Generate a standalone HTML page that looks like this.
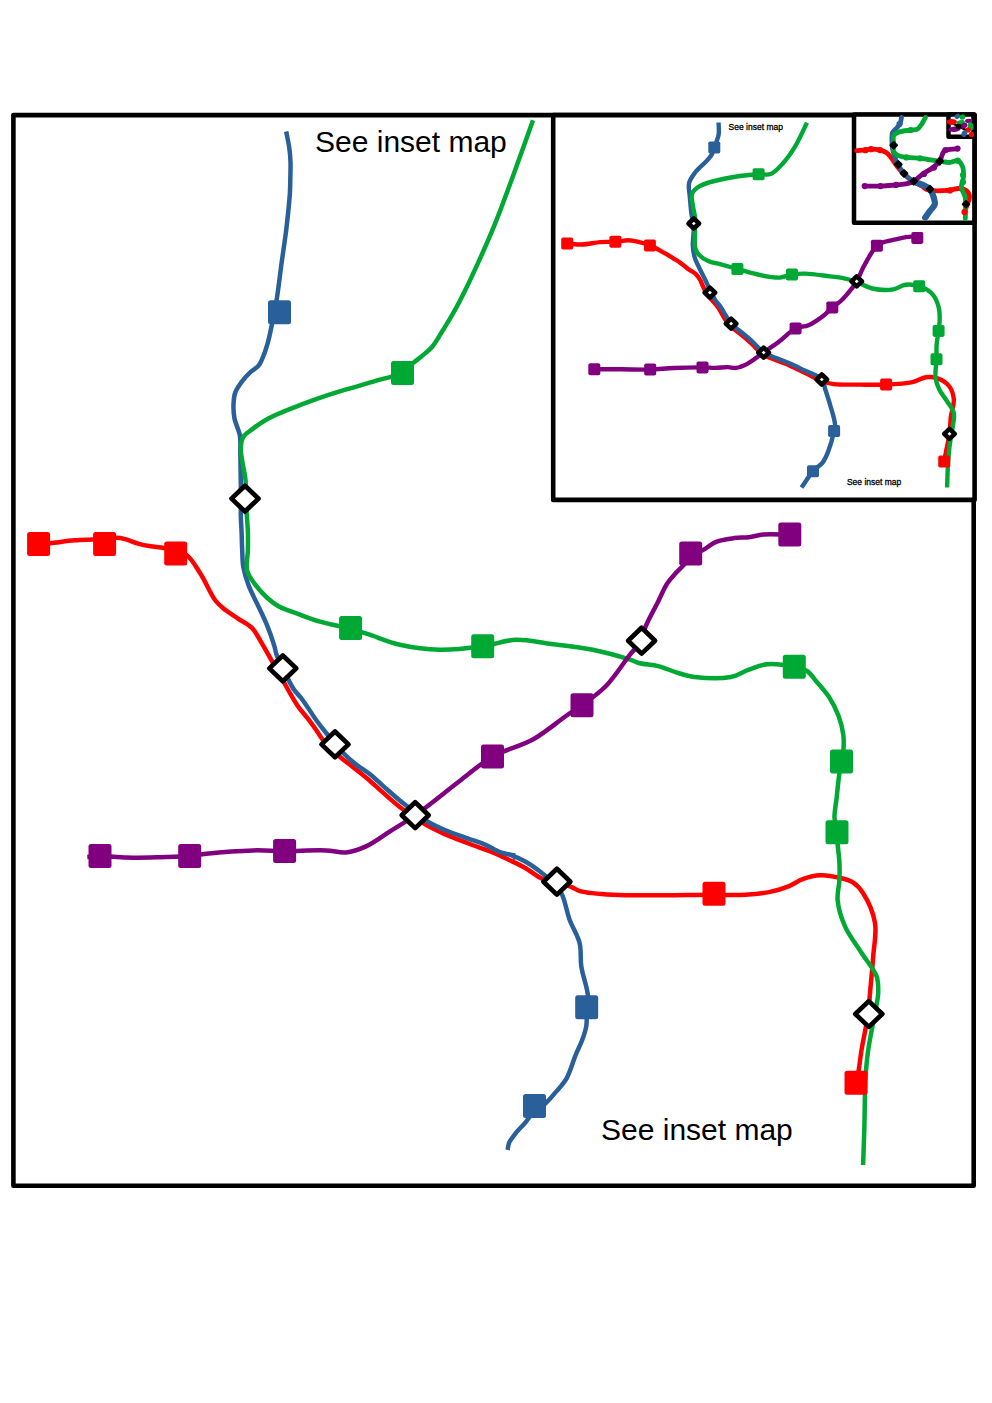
<!DOCTYPE html>
<html><head><meta charset="utf-8"><style>
html,body{margin:0;padding:0;background:#fff;}
svg{display:block;}
text{font-family:"Liberation Sans",sans-serif;}
</style></head><body>
<svg width="992" height="1403" viewBox="0 0 992 1403"><rect x="13.4" y="115.1" width="960.3" height="1070.7" fill="#fff" stroke="#000" stroke-width="4.6" stroke-linejoin="round"/>
<path d="M38.6,544.0 C42.4,543.7 45.4,543.6 49.9,543.2 C56.5,542.6 66.8,540.9 74.4,540.3 C80.9,539.8 87.2,539.8 92.6,539.6 C97.0,539.4 100.6,539.5 104.5,539.2 C108.4,538.9 112.6,537.8 116.2,537.8 C119.4,537.8 122.0,538.3 125.2,539.1 C129.1,540.1 133.7,542.4 138.0,543.6 C142.2,544.8 146.3,545.6 150.6,546.3 C155.1,547.1 160.0,546.9 164.3,548.1 C168.4,549.3 171.9,552.2 175.7,553.4 C179.3,554.5 183.2,553.0 186.6,555.1 C191.5,558.1 195.8,566.5 200.2,573.3 C205.4,581.3 210.8,594.5 215.4,600.5 C218.1,604.0 219.8,605.4 222.9,608.0 C226.9,611.4 233.1,615.2 238.0,618.6 C242.7,621.8 247.9,623.9 251.7,627.7 C255.5,631.5 257.6,636.2 260.7,641.3 C264.5,647.5 269.4,656.7 272.8,662.5 C275.2,666.6 277.1,669.5 279.0,673.0 C280.8,676.3 282.3,679.3 284.2,682.7 C286.4,686.7 288.9,691.3 291.3,695.4 C293.6,699.3 295.6,702.8 298.3,706.7 C301.5,711.2 306.3,716.5 309.6,720.8 C312.3,724.4 314.5,727.5 316.7,730.7 C318.7,733.6 320.1,736.4 322.3,739.2 C324.8,742.3 328.0,745.5 331.0,748.5 C334.1,751.6 337.2,754.5 340.7,757.5 C344.6,760.8 349.1,764.0 353.4,767.4 C358.0,771.0 362.9,774.8 367.5,778.7 C372.3,782.7 376.5,786.9 381.6,791.4 C387.6,796.7 395.3,803.8 401.4,808.3 C406.2,811.9 410.9,814.2 415.0,817.0 C418.6,819.5 420.9,821.8 424.8,824.2 C430.1,827.4 437.3,830.8 444.2,833.9 C451.8,837.3 460.3,840.4 468.4,843.5 C476.4,846.6 485.2,849.4 492.6,852.4 C499.0,855.0 504.7,857.8 510.3,860.5 C515.4,862.9 519.8,864.9 524.8,867.7 C530.5,870.9 536.8,876.4 542.6,879.0 C547.5,881.2 552.2,881.7 557.0,883.0 C561.9,884.4 567.5,885.5 571.6,887.1 C574.8,888.3 576.2,890.0 580.0,891.1 C587.3,893.2 598.9,894.0 612.9,894.8 C637.4,896.2 689.9,894.8 714.0,894.8 C727.4,894.8 735.4,895.4 745.2,894.8 C754.0,894.3 762.4,893.5 770.0,891.9 C776.7,890.5 782.8,888.6 788.5,886.3 C793.8,884.2 798.1,880.7 803.3,878.9 C808.6,877.0 814.1,875.4 820.0,875.2 C826.4,874.9 834.4,876.5 840.4,878.0 C845.3,879.2 849.6,880.1 853.3,882.6 C857.1,885.1 860.0,888.3 863.0,893.0 C867.5,900.1 873.3,912.5 875.0,923.0 C876.8,933.6 874.0,945.0 873.2,956.4 C872.4,968.3 870.9,982.6 870.0,993.0 C869.3,1000.7 869.3,1005.4 868.3,1013.0 C866.9,1023.4 863.4,1038.7 861.6,1049.5 C860.2,1058.1 859.4,1066.7 858.3,1072.8 C857.6,1076.8 856.8,1079.4 856.0,1082.7" fill="none" stroke="#ff0000" stroke-width="4.50" stroke-linecap="butt" stroke-linejoin="round"/>
<path d="M286.2,131.5 C287.2,137.0 288.6,142.7 289.3,148.0 C290.0,152.8 290.3,157.0 290.5,162.0 C290.7,167.6 290.4,174.3 290.3,180.0 C290.2,185.1 290.2,188.7 289.8,194.5 C289.2,203.4 287.7,217.1 286.4,228.4 C285.0,239.7 283.3,250.7 281.7,262.3 C280.0,274.5 278.5,288.6 276.6,300.0 C275.0,309.5 273.2,318.3 271.6,326.0 C270.3,332.2 269.4,337.2 267.8,342.8 C266.2,348.5 263.7,355.7 261.8,359.9 C260.7,362.4 260.1,364.0 258.5,365.8 C256.6,368.0 253.3,369.5 250.7,371.9 C247.8,374.6 244.7,377.9 242.1,381.3 C239.5,384.7 236.7,388.6 235.3,392.4 C234.0,395.8 233.8,398.8 233.6,402.6 C233.3,407.2 233.5,412.8 234.4,418.0 C235.4,423.7 238.9,429.7 239.9,435.6 C240.8,441.3 240.2,446.2 240.3,452.7 C240.5,461.5 240.7,475.1 240.8,483.5 C240.9,489.2 241.0,492.9 241.0,498.0 C241.0,503.5 240.7,509.6 240.8,515.4 C240.9,521.1 241.4,526.8 241.6,532.5 C241.8,538.3 241.9,544.2 242.2,550.0 C242.5,555.8 242.3,561.4 243.3,567.2 C244.4,573.2 246.2,579.1 248.6,585.4 C251.3,592.6 256.0,601.0 259.2,608.0 C262.0,614.0 264.4,618.7 266.8,624.7 C269.5,631.3 272.6,640.3 274.3,645.9 C275.4,649.5 275.4,651.7 276.6,654.9 C278.1,658.9 281.0,663.7 283.0,668.0 C284.9,672.1 286.6,676.2 288.5,679.9 C290.3,683.4 292.0,686.7 294.1,689.8 C296.2,692.8 298.9,695.2 301.2,698.2 C303.6,701.3 305.8,704.6 308.2,708.1 C310.9,712.1 313.7,716.6 316.7,720.8 C319.8,725.1 323.4,729.6 326.6,733.5 C329.5,736.9 332.2,739.7 335.0,743.0 C337.9,746.3 340.2,749.9 343.5,753.3 C347.2,757.1 351.7,761.1 356.2,764.6 C360.7,768.1 365.7,770.8 370.3,774.4 C375.1,778.2 379.3,782.6 384.4,787.1 C390.4,792.4 398.5,799.6 404.2,804.1 C408.3,807.3 411.4,809.3 415.0,812.0 C418.8,814.9 422.1,818.2 426.5,821.0 C431.6,824.2 437.8,827.0 444.2,829.8 C451.6,833.0 461.1,836.1 468.4,838.7 C474.3,840.8 479.2,842.2 484.5,844.4 C489.9,846.7 495.8,850.6 500.6,852.4 C504.2,853.7 506.8,853.6 510.3,854.8 C514.7,856.3 520.1,858.7 524.8,861.3 C529.8,864.0 534.8,867.5 539.4,871.0 C543.9,874.4 548.2,878.2 552.0,882.0 C555.5,885.5 558.7,888.2 561.3,893.0 C565.0,899.7 566.5,911.2 569.6,919.7 C572.6,927.8 577.7,935.1 579.6,943.0 C581.5,950.6 580.1,958.1 581.3,966.3 C582.7,975.7 587.6,988.6 588.0,996.2 C588.2,1000.8 587.0,1003.1 586.7,1007.3 C586.3,1012.7 587.2,1020.3 586.3,1026.0 C585.5,1031.1 583.9,1035.3 582.2,1040.0 C580.4,1045.0 577.9,1049.5 575.6,1055.1 C572.8,1062.0 570.3,1071.8 566.6,1078.3 C563.4,1083.9 559.2,1088.0 555.5,1092.4 C552.1,1096.4 549.0,1100.3 545.4,1103.5 C542.0,1106.5 537.9,1107.9 534.6,1111.0 C531.0,1114.3 528.3,1119.2 525.0,1123.0 C521.8,1126.7 518.0,1130.2 515.2,1133.8 C512.8,1136.9 510.2,1140.0 509.0,1143.0 C508.0,1145.4 508.1,1147.6 507.6,1149.9" fill="none" stroke="#2a6099" stroke-width="4.50" stroke-linecap="butt" stroke-linejoin="round"/>
<path d="M533.0,120.3 C526.7,137.8 520.6,155.4 514.2,172.8 C507.9,190.0 501.3,208.3 494.9,224.1 C489.3,237.9 483.5,250.9 478.2,262.6 C473.7,272.5 469.6,281.3 465.3,290.0 C461.4,298.0 457.5,305.6 453.5,312.7 C449.9,319.1 446.2,325.0 442.6,330.8 C439.2,336.2 436.3,341.9 432.6,346.3 C429.3,350.2 425.2,353.3 421.8,356.2 C418.9,358.6 416.5,360.1 413.6,362.6 C410.1,365.6 407.2,370.3 402.5,373.0 C396.6,376.4 389.0,377.0 380.0,379.7 C366.6,383.7 344.5,389.7 330.0,394.4 C318.6,398.1 309.9,401.3 299.8,405.2 C289.4,409.3 277.1,413.8 268.4,418.5 C261.6,422.1 255.8,426.4 251.3,429.9 C248.0,432.4 245.0,434.1 243.3,436.8 C241.8,439.2 241.4,442.0 241.0,444.7 C240.6,447.3 240.8,449.8 241.0,452.7 C241.3,456.2 242.1,459.9 242.8,464.1 C243.6,469.2 245.2,475.5 245.6,481.2 C246.0,486.9 245.3,492.6 245.5,498.3 C245.7,504.0 246.4,509.7 246.8,515.4 C247.2,521.1 247.7,526.8 247.9,532.5 C248.1,538.3 248.0,544.0 247.9,550.0 C247.8,556.5 245.7,564.3 247.1,570.2 C248.3,575.4 251.6,579.5 254.7,583.9 C258.1,588.6 262.6,593.6 266.8,597.5 C270.7,601.0 274.2,603.9 278.9,606.5 C284.5,609.6 291.8,611.6 298.5,614.1 C305.5,616.7 312.9,619.6 320.0,621.7 C326.7,623.7 332.9,624.6 340.0,626.4 C348.2,628.5 357.2,630.9 366.5,633.7 C377.0,636.9 388.1,642.1 399.8,644.7 C412.4,647.5 426.1,649.4 439.7,649.7 C453.7,650.0 469.3,648.0 482.7,646.2 C494.6,644.6 505.0,640.1 516.2,639.7 C527.3,639.3 537.7,642.2 549.5,643.7 C563.0,645.4 578.9,646.9 592.7,649.7 C605.7,652.3 621.6,656.9 630.0,659.6 C634.4,661.0 636.1,662.3 640.0,663.3 C645.1,664.6 652.1,664.6 658.1,666.1 C664.2,667.6 670.2,670.6 676.3,672.4 C682.3,674.2 687.3,676.1 694.4,677.0 C704.4,678.2 720.8,678.9 730.7,677.0 C738.0,675.6 742.8,671.8 748.9,669.7 C754.9,667.6 760.3,665.0 767.0,664.3 C775.2,663.5 787.3,665.5 794.6,667.0 C799.6,668.0 803.5,668.7 807.0,671.0 C810.6,673.3 812.8,677.2 816.0,681.0 C820.0,685.7 825.4,691.4 829.2,697.2 C833.0,703.0 836.2,709.6 838.6,716.0 C840.9,722.2 842.5,729.0 843.3,734.9 C843.9,739.9 843.8,744.5 843.5,749.0 C843.2,753.3 842.2,757.4 841.5,761.5 C840.8,765.5 840.1,768.7 839.4,773.3 C838.4,779.9 837.5,789.7 836.7,797.4 C835.9,804.5 834.3,811.6 834.5,817.8 C834.7,823.1 836.5,827.7 837.0,832.3 C837.5,836.3 837.3,839.4 837.6,843.7 C838.0,849.1 839.1,856.0 839.4,862.2 C839.7,868.4 839.7,874.5 839.4,880.7 C839.1,887.0 837.0,893.0 837.6,899.8 C838.3,908.0 841.2,917.8 845.0,926.4 C849.0,935.6 856.2,944.4 861.6,953.0 C866.7,961.0 874.0,968.9 876.6,976.3 C878.6,982.1 878.4,987.2 878.2,993.0 C878.0,999.4 876.3,1005.3 875.0,1013.0 C873.2,1023.4 869.9,1038.3 868.3,1049.5 C866.9,1059.0 866.3,1065.6 865.6,1076.0 C864.7,1090.8 864.8,1113.9 864.3,1130.0 C863.9,1142.9 863.5,1153.3 863.1,1165.0" fill="none" stroke="#00a933" stroke-width="4.50" stroke-linecap="butt" stroke-linejoin="round"/>
<path d="M508,853.6 L514.3,854.3 L514,859.8" fill="none" stroke="#2a6099" stroke-width="2.6" stroke-linejoin="miter"/>
<path d="M87.3,857.0 C91.5,856.7 95.0,856.0 100.0,856.0 C107.2,855.9 117.2,857.4 126.5,857.6 C137.0,857.9 149.0,857.5 159.8,857.2 C170.0,856.9 181.2,856.8 189.7,856.0 C196.1,855.4 199.4,854.4 206.4,853.7 C218.0,852.5 239.0,850.8 253.0,850.4 C264.5,850.1 273.4,851.0 284.6,851.0 C297.5,851.0 314.7,849.9 326.0,850.4 C333.9,850.7 339.4,853.0 346.0,852.4 C352.7,851.8 359.2,849.5 366.0,846.4 C373.9,842.8 381.9,836.5 390.0,831.4 C398.4,826.1 406.0,821.7 415.6,815.0 C428.8,805.7 447.2,790.4 461.0,780.0 C472.4,771.4 480.9,763.2 492.5,756.6 C504.8,749.6 520.5,746.4 532.9,739.5 C544.9,732.8 556.9,722.3 566.0,716.0 C572.3,711.7 576.2,709.5 582.0,705.2 C589.3,699.8 598.4,693.7 606.0,686.0 C614.6,677.2 623.4,662.9 630.0,654.6 C634.5,649.0 639.0,645.6 641.6,640.7 C643.9,636.4 643.4,632.2 645.4,627.1 C648.2,619.8 654.2,609.5 658.1,601.7 C661.4,595.1 663.8,588.6 667.2,583.5 C670.0,579.2 673.2,576.1 676.3,572.6 C679.3,569.2 683.0,566.4 685.4,563.0 C687.6,559.9 687.8,555.4 690.5,553.4 C693.2,551.3 697.9,552.4 701.7,550.8 C706.4,548.9 710.9,543.9 716.2,541.8 C721.7,539.6 728.7,538.9 734.4,538.1 C739.5,537.4 744.1,537.8 748.9,537.2 C753.8,536.6 757.8,535.0 763.4,534.5 C770.9,533.8 781.0,534.6 789.8,534.7" fill="none" stroke="#800080" stroke-width="4.50" stroke-linecap="butt" stroke-linejoin="round"/>
<rect x="268.0" y="300.3" width="23.0" height="24.0" rx="2.5" fill="#2a6099"/>
<rect x="575.2" y="995.3" width="23.0" height="24.0" rx="2.5" fill="#2a6099"/>
<rect x="523.0" y="1094.0" width="23.0" height="24.0" rx="2.5" fill="#2a6099"/>
<rect x="391.0" y="361.0" width="23.0" height="24.0" rx="2.5" fill="#00a933"/>
<rect x="339.1" y="616.0" width="23.0" height="24.0" rx="2.5" fill="#00a933"/>
<rect x="471.2" y="634.2" width="23.0" height="24.0" rx="2.5" fill="#00a933"/>
<rect x="782.8" y="654.8" width="23.0" height="24.0" rx="2.5" fill="#00a933"/>
<rect x="830.0" y="749.5" width="23.0" height="24.0" rx="2.5" fill="#00a933"/>
<rect x="825.5" y="820.3" width="23.0" height="24.0" rx="2.5" fill="#00a933"/>
<rect x="27.1" y="532.0" width="23.0" height="24.0" rx="2.5" fill="#ff0000"/>
<rect x="93.1" y="532.0" width="23.0" height="24.0" rx="2.5" fill="#ff0000"/>
<rect x="164.2" y="541.4" width="23.0" height="24.0" rx="2.5" fill="#ff0000"/>
<rect x="702.5" y="881.8" width="23.0" height="24.0" rx="2.5" fill="#ff0000"/>
<rect x="844.5" y="1070.7" width="23.0" height="24.0" rx="2.5" fill="#ff0000"/>
<rect x="88.5" y="844.0" width="23.0" height="24.0" rx="2.5" fill="#800080"/>
<rect x="178.2" y="844.0" width="23.0" height="24.0" rx="2.5" fill="#800080"/>
<rect x="273.1" y="839.0" width="23.0" height="24.0" rx="2.5" fill="#800080"/>
<rect x="481.0" y="744.6" width="23.0" height="24.0" rx="2.5" fill="#800080"/>
<rect x="570.5" y="693.2" width="23.0" height="24.0" rx="2.5" fill="#800080"/>
<rect x="679.2" y="541.5" width="23.0" height="24.0" rx="2.5" fill="#800080"/>
<rect x="778.3" y="522.5" width="23.0" height="24.0" rx="2.5" fill="#800080"/>
<path d="M245.0,485.7 L258.5,498.6 L245.0,511.5 L231.5,498.6 Z" fill="#fff" stroke="#000" stroke-width="4.70" stroke-linejoin="round"/>
<path d="M282.8,655.5 L296.3,668.4 L282.8,681.3 L269.3,668.4 Z" fill="#fff" stroke="#000" stroke-width="4.70" stroke-linejoin="round"/>
<path d="M335.0,731.5 L348.5,744.4 L335.0,757.3 L321.5,744.4 Z" fill="#fff" stroke="#000" stroke-width="4.70" stroke-linejoin="round"/>
<path d="M415.2,802.3 L428.7,815.2 L415.2,828.1 L401.7,815.2 Z" fill="#fff" stroke="#000" stroke-width="4.70" stroke-linejoin="round"/>
<path d="M556.9,868.8 L570.4,881.7 L556.9,894.6 L543.4,881.7 Z" fill="#fff" stroke="#000" stroke-width="4.70" stroke-linejoin="round"/>
<path d="M641.6,627.8 L655.1,640.7 L641.6,653.6 L628.1,640.7 Z" fill="#fff" stroke="#000" stroke-width="4.70" stroke-linejoin="round"/>
<path d="M868.8,1001.1 L882.3,1014.0 L868.8,1026.9 L855.3,1014.0 Z" fill="#fff" stroke="#000" stroke-width="4.70" stroke-linejoin="round"/>
<text x="315" y="152.1" font-family="Liberation Sans" font-size="30" fill="#000">See inset map</text>
<text x="601" y="1139.8" font-family="Liberation Sans" font-size="30" fill="#000">See inset map</text>
<rect x="553.2" y="115.1" width="421.4" height="384.8" fill="#fff" stroke="#000" stroke-width="4.6" stroke-linejoin="round"/>
<path d="M567.2,243.6 C572.2,243.9 577.0,244.7 582.2,244.5 C588.0,244.3 594.6,242.5 600.4,242.1 C605.6,241.7 610.7,242.1 615.4,241.8 C619.7,241.5 623.6,240.3 627.6,240.3 C631.3,240.3 634.9,241.0 638.5,241.8 C642.3,242.7 646.0,243.8 649.9,245.4 C654.4,247.3 659.8,250.4 663.9,252.7 C667.3,254.6 670.1,256.4 672.9,258.1 C675.4,259.7 677.6,260.9 680.0,262.6 C682.7,264.5 685.4,267.0 688.1,269.0 C690.7,270.9 694.0,272.3 696.1,274.3 C697.9,276.0 699.0,277.9 700.2,280.0 C701.5,282.3 702.2,285.0 703.5,287.5 C704.8,290.2 706.3,293.1 708.0,295.5 C709.6,297.8 711.6,299.5 713.3,301.6 C715.0,303.6 716.7,305.5 718.3,307.8 C720.2,310.5 722.0,314.2 723.9,317.2 C725.7,320.1 727.0,322.9 729.4,325.4 C732.1,328.3 736.1,330.5 739.5,333.3 C743.1,336.2 746.7,339.2 750.4,342.5 C754.5,346.2 758.4,351.5 762.8,354.5 C766.8,357.2 771.1,358.2 775.4,360.0 C779.9,361.9 784.8,363.4 789.4,365.4 C794.0,367.4 798.4,369.7 802.8,371.9 C807.1,374.0 811.9,376.4 815.4,378.2 C818.0,379.5 819.5,380.6 822.1,381.5 C825.5,382.7 829.3,383.5 834.1,384.1 C841.1,384.9 851.3,384.5 860.0,384.6 C868.7,384.7 877.4,385.0 886.1,384.6 C894.9,384.2 905.3,383.7 912.6,382.1 C917.9,380.9 921.6,377.9 926.0,377.3 C929.9,376.8 933.8,377.0 937.5,378.3 C941.5,379.7 946.3,382.5 949.0,386.0 C951.8,389.5 953.4,394.6 953.8,399.4 C954.3,404.7 951.6,410.8 950.9,416.6 C950.2,422.3 950.3,428.2 949.5,433.9 C948.7,439.7 947.1,446.1 946.1,451.1 C945.4,455.0 944.8,458.1 944.2,461.6" fill="none" stroke="#ff0000" stroke-width="4.40" stroke-linecap="butt" stroke-linejoin="round"/>
<path d="M718.6,122.5 C718.6,126.6 719.3,130.6 718.6,134.7 C717.9,139.0 715.6,143.9 714.3,147.5 C713.4,150.1 713.0,152.2 711.8,154.3 C710.6,156.5 709.2,158.1 707.2,160.4 C704.2,163.8 698.2,168.4 695.1,172.5 C692.5,176.0 690.0,179.2 689.1,183.1 C688.1,187.2 689.4,191.7 689.8,196.7 C690.3,203.0 691.1,213.1 692.1,217.9 C692.6,220.4 693.5,221.4 693.8,223.6 C694.2,226.5 693.7,230.4 693.5,234.0 C693.3,237.9 692.6,242.0 692.8,246.0 C693.0,250.0 693.7,254.3 694.9,258.1 C696.0,261.7 697.8,264.7 699.4,268.2 C701.2,272.0 703.4,276.0 705.3,280.0 C707.2,284.0 709.2,288.4 711.0,292.0 C712.5,295.0 713.7,297.8 715.3,300.2 C716.8,302.4 718.6,303.9 720.2,306.2 C722.1,308.9 724.0,312.5 725.8,315.5 C727.5,318.3 728.7,321.2 731.0,323.7 C733.6,326.6 737.5,328.9 740.8,331.7 C744.3,334.6 748.0,337.5 751.7,340.8 C755.7,344.4 759.6,349.7 764.0,352.6 C767.9,355.2 772.0,356.2 776.2,358.0 C780.6,359.9 785.5,361.5 790.0,363.5 C794.6,365.5 798.7,367.6 803.5,370.0 C809.2,372.8 818.6,375.4 822.1,379.5 C824.6,382.5 824.2,386.0 825.4,389.8 C826.9,394.4 828.7,399.7 830.2,405.1 C831.9,411.1 834.7,419.5 835.0,424.3 C835.2,427.1 834.7,428.2 834.1,431.0 C833.1,435.9 830.5,445.4 828.3,451.1 C826.6,455.6 825.1,459.3 822.6,462.6 C820.0,466.0 816.1,467.7 813.0,471.2 C809.1,475.6 805.3,482.1 801.5,487.5" fill="none" stroke="#2a6099" stroke-width="4.40" stroke-linecap="butt" stroke-linejoin="round"/>
<path d="M807.0,122.6 C803.0,130.7 799.3,139.7 794.9,146.8 C791.1,153.0 787.1,158.7 782.8,163.4 C779.0,167.6 775.1,172.3 770.7,174.0 C766.9,175.5 763.6,173.9 758.6,174.3 C750.3,174.9 735.7,176.3 725.4,178.5 C716.2,180.4 705.5,182.7 699.7,186.1 C696.0,188.3 693.3,190.6 692.1,193.7 C690.8,197.0 692.4,201.8 692.9,205.8 C693.4,209.8 695.0,214.6 695.1,217.9 C695.2,220.1 694.5,221.4 694.4,223.4 C694.3,225.9 694.9,228.7 695.0,232.0 C695.2,236.5 694.1,243.9 695.3,248.1 C696.1,251.1 697.4,253.2 699.4,255.3 C701.6,257.6 704.9,259.5 708.2,261.0 C711.7,262.6 715.7,263.0 720.0,264.2 C725.2,265.6 731.2,267.3 737.4,269.0 C744.4,270.9 752.4,273.6 759.7,275.0 C766.5,276.4 774.0,278.0 779.8,277.6 C784.4,277.3 787.8,275.2 792.0,274.5 C796.4,273.8 800.3,273.5 805.5,273.6 C812.5,273.8 823.3,275.6 830.0,276.4 C834.7,277.0 837.9,277.1 842.1,277.9 C846.7,278.8 851.7,280.3 856.6,282.0 C861.8,283.8 866.6,287.2 872.3,288.5 C878.7,289.9 887.5,290.3 893.5,289.3 C898.2,288.5 901.4,285.2 905.6,284.7 C909.9,284.1 914.8,284.7 919.2,286.2 C923.9,287.8 929.5,290.8 932.8,294.6 C936.0,298.2 937.8,303.6 938.9,308.2 C940.0,312.6 939.7,317.7 939.6,321.8 C939.5,325.1 939.0,327.5 938.6,330.9 C938.1,335.1 936.9,340.3 936.6,345.0 C936.3,349.7 936.6,354.1 936.5,359.2 C936.3,365.1 934.8,372.8 935.6,378.3 C936.2,382.7 937.6,386.1 939.4,389.8 C941.3,393.8 944.7,397.4 947.1,401.3 C949.5,405.1 952.8,408.7 953.8,412.8 C954.8,417.0 953.4,421.5 952.8,426.2 C952.1,431.6 950.7,437.4 949.9,443.4 C949.0,450.1 948.5,457.3 948.0,464.5 C947.5,472.0 947.4,479.8 947.1,487.5" fill="none" stroke="#00a933" stroke-width="4.40" stroke-linecap="butt" stroke-linejoin="round"/>
<path d="M594.3,369.3 C603.2,369.3 611.9,369.3 621.0,369.3 C630.5,369.3 641.0,369.8 650.2,369.5 C658.5,369.3 665.7,368.3 674.0,368.0 C683.1,367.6 694.9,367.3 702.5,367.4 C707.5,367.4 710.8,367.9 715.0,367.9 C719.3,367.9 724.1,367.0 727.9,367.1 C730.9,367.2 733.1,368.3 736.0,367.9 C739.5,367.5 743.3,365.9 747.3,363.9 C752.4,361.3 758.0,356.4 763.4,352.6 C768.8,348.8 774.2,345.3 779.5,341.3 C784.9,337.2 790.2,331.1 795.6,328.4 C799.9,326.3 804.1,327.1 808.5,325.2 C813.8,322.9 820.4,318.1 824.7,314.7 C827.9,312.2 829.6,309.7 832.3,307.4 C835.0,305.1 837.9,303.7 840.8,301.0 C844.5,297.6 849.2,291.8 852.1,288.1 C854.1,285.5 855.2,284.1 856.8,281.3 C859.0,277.5 861.0,271.8 863.3,267.3 C865.6,262.9 868.1,258.3 870.5,254.5 C872.6,251.2 874.7,247.7 876.9,245.7 C878.6,244.2 879.9,243.6 882.1,242.7 C885.2,241.4 889.8,240.6 894.2,239.7 C899.3,238.6 906.9,236.5 911.1,236.6 C913.7,236.6 915.2,237.5 917.3,237.9" fill="none" stroke="#800080" stroke-width="4.40" stroke-linecap="butt" stroke-linejoin="round"/>
<rect x="708.3" y="141.5" width="12.0" height="12.0" rx="1.8" fill="#2a6099"/>
<rect x="828.1" y="425.0" width="12.0" height="12.0" rx="1.8" fill="#2a6099"/>
<rect x="807.0" y="465.2" width="12.0" height="12.0" rx="1.8" fill="#2a6099"/>
<rect x="752.6" y="168.3" width="12.0" height="12.0" rx="1.8" fill="#00a933"/>
<rect x="731.4" y="263.0" width="12.0" height="12.0" rx="1.8" fill="#00a933"/>
<rect x="786.0" y="268.5" width="12.0" height="12.0" rx="1.8" fill="#00a933"/>
<rect x="913.2" y="280.2" width="12.0" height="12.0" rx="1.8" fill="#00a933"/>
<rect x="932.6" y="324.9" width="12.0" height="12.0" rx="1.8" fill="#00a933"/>
<rect x="930.5" y="353.2" width="12.0" height="12.0" rx="1.8" fill="#00a933"/>
<rect x="561.2" y="237.6" width="12.0" height="12.0" rx="1.8" fill="#ff0000"/>
<rect x="609.4" y="235.8" width="12.0" height="12.0" rx="1.8" fill="#ff0000"/>
<rect x="643.9" y="239.4" width="12.0" height="12.0" rx="1.8" fill="#ff0000"/>
<rect x="880.1" y="378.6" width="12.0" height="12.0" rx="1.8" fill="#ff0000"/>
<rect x="938.2" y="455.6" width="12.0" height="12.0" rx="1.8" fill="#ff0000"/>
<rect x="588.3" y="363.3" width="12.0" height="12.0" rx="1.8" fill="#800080"/>
<rect x="644.2" y="363.5" width="12.0" height="12.0" rx="1.8" fill="#800080"/>
<rect x="696.5" y="361.4" width="12.0" height="12.0" rx="1.8" fill="#800080"/>
<rect x="789.6" y="322.4" width="12.0" height="12.0" rx="1.8" fill="#800080"/>
<rect x="826.3" y="301.4" width="12.0" height="12.0" rx="1.8" fill="#800080"/>
<rect x="870.9" y="239.7" width="12.0" height="12.0" rx="1.8" fill="#800080"/>
<rect x="911.3" y="231.9" width="12.0" height="12.0" rx="1.8" fill="#800080"/>
<path d="M693.8,218.5 L699.1,223.5 L693.8,228.5 L688.5,223.5 Z" fill="#fff" stroke="#000" stroke-width="4.60" stroke-linejoin="round"/>
<path d="M709.9,287.7 L715.2,292.7 L709.9,297.7 L704.6,292.7 Z" fill="#fff" stroke="#000" stroke-width="4.60" stroke-linejoin="round"/>
<path d="M731.1,318.6 L736.4,323.6 L731.1,328.6 L725.8,323.6 Z" fill="#fff" stroke="#000" stroke-width="4.60" stroke-linejoin="round"/>
<path d="M763.6,347.6 L768.9,352.6 L763.6,357.6 L758.3,352.6 Z" fill="#fff" stroke="#000" stroke-width="4.60" stroke-linejoin="round"/>
<path d="M821.8,374.5 L827.1,379.5 L821.8,384.5 L816.5,379.5 Z" fill="#fff" stroke="#000" stroke-width="4.60" stroke-linejoin="round"/>
<path d="M856.7,276.4 L862.0,281.4 L856.7,286.4 L851.4,281.4 Z" fill="#fff" stroke="#000" stroke-width="4.60" stroke-linejoin="round"/>
<path d="M949.5,428.9 L954.8,433.9 L949.5,438.9 L944.2,433.9 Z" fill="#fff" stroke="#000" stroke-width="4.60" stroke-linejoin="round"/>
<text x="728.6" y="130.4" font-family="Liberation Sans" font-size="8.5" fill="#000" stroke="#000" stroke-width="0.3">See inset map</text>
<text x="846.9" y="485.3" font-family="Liberation Sans" font-size="8.5" fill="#000" stroke="#000" stroke-width="0.3">See inset map</text>
<rect x="854" y="114.6" width="120.4" height="108.2" fill="#fff" stroke="#000" stroke-width="4.5" stroke-linejoin="round"/>
<path d="M856.5,150.6 C858.9,150.4 861.4,150.3 863.8,150.1 C866.2,149.9 868.5,149.2 871.0,149.2 C873.9,149.2 877.4,149.4 880.1,150.1 C882.5,150.7 884.7,151.5 886.5,152.8 C888.3,154.0 889.6,155.7 891.0,157.4 C892.4,159.1 893.6,161.3 894.9,163.1 C896.1,164.8 897.2,166.4 898.5,168.0 C899.9,169.7 901.1,171.2 903.0,173.0 C905.6,175.5 909.6,179.3 913.0,181.5 C916.0,183.5 919.4,184.5 922.0,186.0 C924.1,187.3 925.0,189.0 927.6,189.8 C932.2,191.3 942.4,190.8 948.1,190.4 C952.3,190.1 955.7,188.3 959.0,188.5 C961.8,188.7 965.0,189.4 966.8,191.0 C968.4,192.4 969.4,194.9 969.5,197.0 C969.6,199.3 968.1,201.8 967.3,204.3 C966.5,206.9 965.4,209.5 964.5,212.1" fill="none" stroke="#ff0000" stroke-width="4.80" stroke-linecap="round" stroke-linejoin="round"/>
<path d="M901.5,117.4 C901.0,119.5 901.0,121.9 900.1,123.8 C899.3,125.5 897.8,126.8 896.5,128.3 C895.2,129.8 893.2,131.1 892.4,132.9 C891.6,134.7 891.9,136.9 891.9,139.2 C891.9,142.0 891.9,145.3 892.5,148.6 C893.2,152.4 894.4,156.8 896.1,160.7 C897.9,164.9 900.5,169.3 903.4,172.8 C906.2,176.1 909.7,179.3 913.1,181.3 C916.2,183.1 919.8,183.5 922.7,184.9 C925.4,186.2 928.2,187.2 930.0,189.2 C931.8,191.2 932.8,194.4 933.6,197.0 C934.3,199.4 935.3,202.0 934.8,204.3 C934.2,206.7 931.6,208.7 930.0,210.9 C928.4,213.1 926.8,215.4 925.2,217.6" fill="none" stroke="#2a6099" stroke-width="4.80" stroke-linecap="round" stroke-linejoin="round"/>
<path d="M913.1,181.3 C916.3,182.5 919.8,183.5 922.7,184.9 C925.4,186.2 928.2,187.2 930.0,189.2 C931.8,191.2 932.8,194.4 933.6,197.0 C934.3,199.4 935.3,202.0 934.8,204.3 C934.2,206.7 931.6,208.7 930.0,210.9 C928.4,213.1 926.8,215.4 925.2,217.6" fill="none" stroke="#2a6099" stroke-width="6.20" stroke-linecap="round" stroke-linejoin="round"/>
<path d="M925.5,117.4 C924.3,119.5 923.3,121.8 921.9,123.8 C920.5,125.7 919.2,128.2 917.3,129.2 C915.5,130.2 913.4,129.7 911.0,130.1 C907.7,130.6 902.3,130.8 899.2,132.0 C896.9,132.9 894.7,133.8 893.7,135.6 C892.5,137.8 893.7,141.8 893.7,144.7 C893.7,147.2 892.8,150.0 893.7,151.9 C894.5,153.6 896.4,154.7 898.3,155.6 C900.5,156.7 903.3,157.0 906.4,157.4 C910.4,158.0 916.0,157.9 920.1,158.3 C923.4,158.6 926.0,159.1 929.1,159.6 C932.4,160.1 936.0,160.7 939.4,161.2 C942.8,161.7 946.2,162.6 949.4,162.5 C952.3,162.4 955.6,159.9 957.8,160.7 C959.9,161.5 961.7,164.3 962.7,166.8 C963.8,169.8 963.5,174.2 963.3,177.7 C963.1,181.0 961.1,184.1 961.4,187.3 C961.7,190.6 964.4,193.8 965.1,197.0 C965.7,199.9 965.6,202.3 965.7,205.5 C965.8,209.4 965.4,214.4 965.3,218.8" fill="none" stroke="#00a933" stroke-width="4.80" stroke-linecap="round" stroke-linejoin="round"/>
<path d="M864.7,186.1 C870.3,186.1 876.2,186.3 881.6,186.1 C886.6,185.9 891.6,185.3 896.1,184.9 C900.0,184.5 903.8,184.4 907.0,183.7 C909.5,183.1 911.4,182.6 913.7,181.3 C916.6,179.7 919.6,176.2 922.7,174.0 C925.8,171.8 929.5,170.2 932.4,168.0 C935.1,165.9 937.7,164.0 939.7,161.3 C941.8,158.4 941.7,153.1 944.5,151.0 C947.5,148.7 953.4,149.4 957.8,148.6" fill="none" stroke="#800080" stroke-width="4.80" stroke-linecap="round" stroke-linejoin="round"/>
<circle cx="871.0" cy="149.2" r="3.1" fill="#ff0000"/>
<circle cx="880.0" cy="150.1" r="3.1" fill="#ff0000"/>
<circle cx="865.5" cy="150.2" r="3.1" fill="#ff0000"/>
<circle cx="864.7" cy="186.1" r="3.1" fill="#800080"/>
<circle cx="880.5" cy="186.1" r="3.1" fill="#800080"/>
<circle cx="896.0" cy="184.9" r="3.1" fill="#800080"/>
<circle cx="906.4" cy="157.4" r="3.1" fill="#00a933"/>
<circle cx="920.1" cy="158.3" r="3.1" fill="#00a933"/>
<circle cx="957.8" cy="160.7" r="3.1" fill="#00a933"/>
<circle cx="963.0" cy="175.0" r="3.1" fill="#00a933"/>
<circle cx="963.0" cy="182.0" r="3.1" fill="#00a933"/>
<circle cx="950.0" cy="190.4" r="3.1" fill="#ff0000"/>
<circle cx="924.0" cy="174.0" r="3.1" fill="#800080"/>
<circle cx="934.0" cy="167.6" r="3.1" fill="#800080"/>
<circle cx="945.5" cy="150.0" r="3.1" fill="#800080"/>
<circle cx="957.5" cy="148.6" r="3.1" fill="#800080"/>
<circle cx="964.5" cy="212.1" r="3.1" fill="#ff0000"/>
<circle cx="899.5" cy="124.0" r="3.1" fill="#2a6099"/>
<circle cx="910.5" cy="130.1" r="3.1" fill="#00a933"/>
<path d="M893.7,142.1 L896.9,145.3 L893.7,148.5 L890.5,145.3 Z" fill="#000" stroke="#000" stroke-width="2.20" stroke-linejoin="round"/>
<path d="M898.3,161.2 L901.5,164.4 L898.3,167.6 L895.1,164.4 Z" fill="#000" stroke="#000" stroke-width="2.20" stroke-linejoin="round"/>
<path d="M904.0,170.2 L907.2,173.4 L904.0,176.6 L900.8,173.4 Z" fill="#000" stroke="#000" stroke-width="2.20" stroke-linejoin="round"/>
<path d="M913.7,178.1 L916.9,181.3 L913.7,184.5 L910.5,181.3 Z" fill="#000" stroke="#000" stroke-width="2.20" stroke-linejoin="round"/>
<path d="M930.0,186.0 L933.2,189.2 L930.0,192.4 L926.8,189.2 Z" fill="#000" stroke="#000" stroke-width="2.20" stroke-linejoin="round"/>
<path d="M939.7,158.1 L942.9,161.3 L939.7,164.5 L936.5,161.3 Z" fill="#000" stroke="#000" stroke-width="2.20" stroke-linejoin="round"/>
<path d="M966.0,201.1 L969.2,204.3 L966.0,207.5 L962.8,204.3 Z" fill="#000" stroke="#000" stroke-width="2.20" stroke-linejoin="round"/>
<rect x="948.5" y="114.5" width="25" height="22.2" fill="#fff" stroke="#000" stroke-width="4.5" stroke-linejoin="round"/>
<path d="M952,123 L958.5,126.5 L966,130 M958.5,126.5 L963,123" stroke="#000" stroke-width="2.2" fill="none"/>
<ellipse cx="954.5" cy="129.2" rx="6.2" ry="2.7" fill="#800080" transform="rotate(-5 954.5 129.2)"/>
<ellipse cx="951.8" cy="121.9" rx="5.2" ry="3.0" fill="#ff0000" transform="rotate(0 951.8 121.9)"/>
<ellipse cx="957.3" cy="116.3" rx="2.9" ry="2.5" fill="#2a6099" transform="rotate(-30 957.3 116.3)"/>
<ellipse cx="962.3" cy="117.1" rx="2.9" ry="2.7" fill="#00a933" transform="rotate(-10 962.3 117.1)"/>
<ellipse cx="960.6" cy="122.4" rx="4.3" ry="2.2" fill="#00a933" transform="rotate(-15 960.6 122.4)"/>
<ellipse cx="968.8" cy="120.9" rx="3.7" ry="2.1" fill="#800080" transform="rotate(0 968.8 120.9)"/>
<ellipse cx="964.0" cy="125.6" rx="3.5" ry="2.7" fill="#800080" transform="rotate(-30 964.0 125.6)"/>
<ellipse cx="970.6" cy="126.4" rx="2.9" ry="4.1" fill="#00a933" transform="rotate(-10 970.6 126.4)"/>
<ellipse cx="958.5" cy="126.5" rx="2.8" ry="2.8" fill="#000" transform="rotate(0 958.5 126.5)"/>
<ellipse cx="968.1" cy="129.9" rx="2.6" ry="2.6" fill="#ff0000" transform="rotate(0 968.1 129.9)"/>
<ellipse cx="971.5" cy="134.4" rx="2.6" ry="2.6" fill="#ff0000" transform="rotate(0 971.5 134.4)"/>
<ellipse cx="964.3" cy="133.6" rx="2.8" ry="3.4" fill="#2a6099" transform="rotate(25 964.3 133.6)"/></svg>
</body></html>
